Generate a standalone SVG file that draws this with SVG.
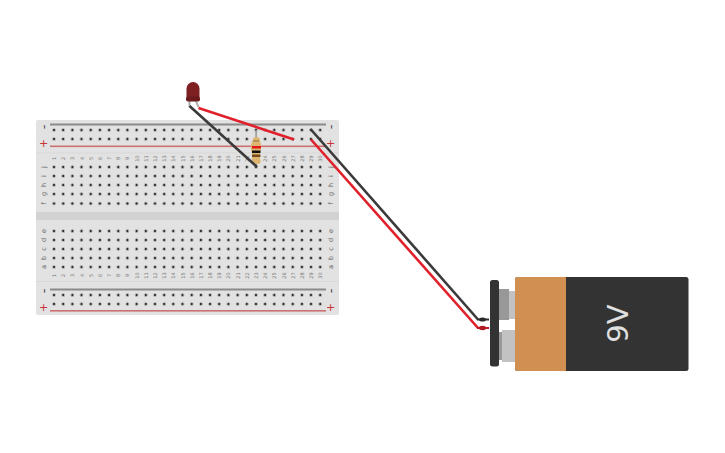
<svg xmlns="http://www.w3.org/2000/svg" width="725" height="453" viewBox="0 0 725 453">
<style>
text{font-family:"DejaVu Sans","Liberation Sans",sans-serif}
.n{font-size:5px;fill:#777;text-anchor:middle;dominant-baseline:central}
.l{font-size:6.500px;fill:#666;text-anchor:middle;dominant-baseline:central}
.m{font-size:13px;fill:#444;text-anchor:middle;dominant-baseline:central}
.p{font-size:11px;fill:#c83232;text-anchor:middle;dominant-baseline:central}
.w{fill:none;stroke-width:2.6;stroke-linecap:butt}
.k{stroke:#3a3a3a}.r{stroke:#e0202a}
.h{fill:#2e2e2e;stroke:#c0c0c0;stroke-width:.9}
</style>
<defs>
<g id="row">
<circle class="h" cx="54" cy="0" r="1.6"/><circle class="h" cx="63.2" cy="0" r="1.6"/><circle class="h" cx="72.4" cy="0" r="1.6"/><circle class="h" cx="81.5" cy="0" r="1.6"/><circle class="h" cx="90.7" cy="0" r="1.6"/><circle class="h" cx="99.9" cy="0" r="1.6"/><circle class="h" cx="109.1" cy="0" r="1.6"/><circle class="h" cx="118.3" cy="0" r="1.6"/><circle class="h" cx="127.4" cy="0" r="1.6"/><circle class="h" cx="136.6" cy="0" r="1.6"/><circle class="h" cx="145.8" cy="0" r="1.6"/><circle class="h" cx="155" cy="0" r="1.6"/><circle class="h" cx="164.2" cy="0" r="1.6"/><circle class="h" cx="173.3" cy="0" r="1.6"/><circle class="h" cx="182.5" cy="0" r="1.6"/><circle class="h" cx="191.7" cy="0" r="1.6"/><circle class="h" cx="200.9" cy="0" r="1.6"/><circle class="h" cx="210.1" cy="0" r="1.6"/><circle class="h" cx="219.2" cy="0" r="1.6"/><circle class="h" cx="228.4" cy="0" r="1.6"/><circle class="h" cx="237.6" cy="0" r="1.6"/><circle class="h" cx="246.8" cy="0" r="1.6"/><circle class="h" cx="256" cy="0" r="1.6"/><circle class="h" cx="265.1" cy="0" r="1.6"/><circle class="h" cx="274.3" cy="0" r="1.6"/><circle class="h" cx="283.5" cy="0" r="1.6"/><circle class="h" cx="292.7" cy="0" r="1.6"/><circle class="h" cx="301.9" cy="0" r="1.6"/><circle class="h" cx="311" cy="0" r="1.6"/><circle class="h" cx="320.2" cy="0" r="1.6"/>
</g>
<g id="nums">
<text class="n" transform="translate(54 0) rotate(-90)">1</text><text class="n" transform="translate(63.2 0) rotate(-90)">2</text><text class="n" transform="translate(72.4 0) rotate(-90)">3</text><text class="n" transform="translate(81.5 0) rotate(-90)">4</text><text class="n" transform="translate(90.7 0) rotate(-90)">5</text><text class="n" transform="translate(99.9 0) rotate(-90)">6</text><text class="n" transform="translate(109.1 0) rotate(-90)">7</text><text class="n" transform="translate(118.3 0) rotate(-90)">8</text><text class="n" transform="translate(127.4 0) rotate(-90)">9</text><text class="n" transform="translate(136.6 0) rotate(-90)">10</text><text class="n" transform="translate(145.8 0) rotate(-90)">11</text><text class="n" transform="translate(155 0) rotate(-90)">12</text><text class="n" transform="translate(164.2 0) rotate(-90)">13</text><text class="n" transform="translate(173.3 0) rotate(-90)">14</text><text class="n" transform="translate(182.5 0) rotate(-90)">15</text><text class="n" transform="translate(191.7 0) rotate(-90)">16</text><text class="n" transform="translate(200.9 0) rotate(-90)">17</text><text class="n" transform="translate(210.1 0) rotate(-90)">18</text><text class="n" transform="translate(219.2 0) rotate(-90)">19</text><text class="n" transform="translate(228.4 0) rotate(-90)">20</text><text class="n" transform="translate(237.6 0) rotate(-90)">21</text><text class="n" transform="translate(246.8 0) rotate(-90)">22</text><text class="n" transform="translate(256 0) rotate(-90)">23</text><text class="n" transform="translate(265.1 0) rotate(-90)">24</text><text class="n" transform="translate(274.3 0) rotate(-90)">25</text><text class="n" transform="translate(283.5 0) rotate(-90)">26</text><text class="n" transform="translate(292.7 0) rotate(-90)">27</text><text class="n" transform="translate(301.9 0) rotate(-90)">28</text><text class="n" transform="translate(311 0) rotate(-90)">29</text><text class="n" transform="translate(320.2 0) rotate(-90)">30</text>
</g>
</defs>
<rect width="725" height="453" fill="#fff"/>
<g id="breadboard" opacity=".995">
<rect x="36" y="120" width="303" height="195" rx="2" fill="#e2e2e2"/>
<rect x="36" y="152.500" width="303" height="1" fill="#d8d8d8"/>
<rect x="36" y="281" width="303" height="1" fill="#d8d8d8"/>
<rect x="36" y="212" width="303" height="8" fill="#d2d2d2"/>
<rect x="50" y="123.500" width="276" height="2" fill="#8a8a8a"/>
<rect x="50" y="145.500" width="276" height="1.600" fill="#cc7070"/>
<rect x="50" y="288.500" width="276" height="2" fill="#8a8a8a"/>
<rect x="50" y="310" width="276" height="1.600" fill="#cc7070"/>
<use href="#row" y="130"/><use href="#row" y="139"/>
<use href="#row" y="167"/><use href="#row" y="176"/><use href="#row" y="185"/><use href="#row" y="194"/><use href="#row" y="203.500"/>
<use href="#row" y="231"/><use href="#row" y="240"/><use href="#row" y="249"/><use href="#row" y="258"/><use href="#row" y="267"/>
<use href="#row" y="295"/><use href="#row" y="304"/>
<use href="#nums" y="158.500"/><use href="#nums" y="275.500"/>
<text class="m" transform="translate(43.500 127) rotate(-90)">-</text><text class="m" transform="translate(330.500 127) rotate(-90)">-</text>
<text class="p" x="43.500" y="143.500">+</text><text class="p" x="330.500" y="143.500">+</text>
<text class="m" transform="translate(43.500 291) rotate(-90)">-</text><text class="m" transform="translate(330.500 291) rotate(-90)">-</text>
<text class="p" x="43.500" y="307.500">+</text><text class="p" x="330.500" y="307.500">+</text>
<text class="l" transform="translate(44 167) rotate(-90)">j</text><text class="l" transform="translate(44 176) rotate(-90)">i</text><text class="l" transform="translate(44 185) rotate(-90)">h</text><text class="l" transform="translate(44 194) rotate(-90)">g</text><text class="l" transform="translate(44 203.500) rotate(-90)">f</text>
<text class="l" transform="translate(331 167) rotate(-90)">j</text><text class="l" transform="translate(331 176) rotate(-90)">i</text><text class="l" transform="translate(331 185) rotate(-90)">h</text><text class="l" transform="translate(331 194) rotate(-90)">g</text><text class="l" transform="translate(331 203.500) rotate(-90)">f</text>
<text class="l" transform="translate(44 231) rotate(-90)">e</text><text class="l" transform="translate(44 240) rotate(-90)">d</text><text class="l" transform="translate(44 249) rotate(-90)">c</text><text class="l" transform="translate(44 258) rotate(-90)">b</text><text class="l" transform="translate(44 267) rotate(-90)">a</text>
<text class="l" transform="translate(331 231) rotate(-90)">e</text><text class="l" transform="translate(331 240) rotate(-90)">d</text><text class="l" transform="translate(331 249) rotate(-90)">c</text><text class="l" transform="translate(331 258) rotate(-90)">b</text><text class="l" transform="translate(331 267) rotate(-90)">a</text>
</g>
<g id="resistor">
<rect x="255.300" y="130" width="1.600" height="37" fill="#9a9a9a"/>
<path d="M253.500 138q3-2 6 0l1.500 7v5l-1 3v6l1 3-2 2h-6l-2-2 1-3v-6l-1-3v-5z" fill="#dcb670"/>
<rect x="252" y="146" width="9" height="2.500" fill="#e01818"/>
<rect x="252" y="150.500" width="8.500" height="2.500" fill="#111"/>
<rect x="252" y="154.500" width="8.500" height="2.500" fill="#7a4a1c"/>
<rect x="253" y="140.500" width="6" height="1" fill="#8a7040"/>
</g>
<g id="led">
<rect x="188.500" y="100" width="2" height="7" fill="#a8a8a8"/>
<path d="M195.500 100l3 7" stroke="#b0b0b0" stroke-width="2" fill="none"/>
<path d="M186.500 98V88.500a6.500 6.500 0 0 1 13 0V98z" fill="#7e1f21"/>
<rect x="186" y="96.500" width="14" height="5" rx="2" fill="#6c1a1c"/>
</g>
<g id="connectors">
<path class="w k" d="M189.500 106L257 167"/>
<path class="w r" d="M198.500 108L294 139.500"/>
<path class="w k" d="M310.500 129L478 319.500"/>
<path class="w r" d="M311 139.500L478 328"/>
<path d="M477 319.500h12" stroke="#2e2e2e" stroke-width="2" fill="none"/>
<path d="M477 328h12" stroke="#c11c22" stroke-width="2" fill="none"/>
<ellipse cx="482.500" cy="319.500" rx="3.500" ry="2" fill="#2a2a2a"/>
<ellipse cx="482.500" cy="328" rx="3.500" ry="2.200" fill="#b01a20"/>
</g>
<g id="battery">
<rect x="498" y="289" width="11" height="31" fill="#989898"/>
<rect x="509" y="291" width="7" height="28" fill="#c2c2c2"/>
<rect x="498" y="332" width="5" height="28" fill="#989898"/>
<rect x="502" y="330" width="14" height="32" fill="#c2c2c2"/>
<rect x="490" y="280" width="9" height="86.500" rx="2.500" fill="#333"/>
<rect x="515" y="277" width="173.500" height="94" rx="2.500" fill="#333"/>
<path d="M566 277H517.500a2.500 2.500 0 0 0-2.500 2.500V368.500a2.500 2.500 0 0 0 2.500 2.500H566z" fill="#d18f52"/>
<text transform="translate(618 323.500) rotate(-90)" font-size="29" fill="#e0e0e0" text-anchor="middle" dominant-baseline="central">9V</text>
</g>
</svg>
